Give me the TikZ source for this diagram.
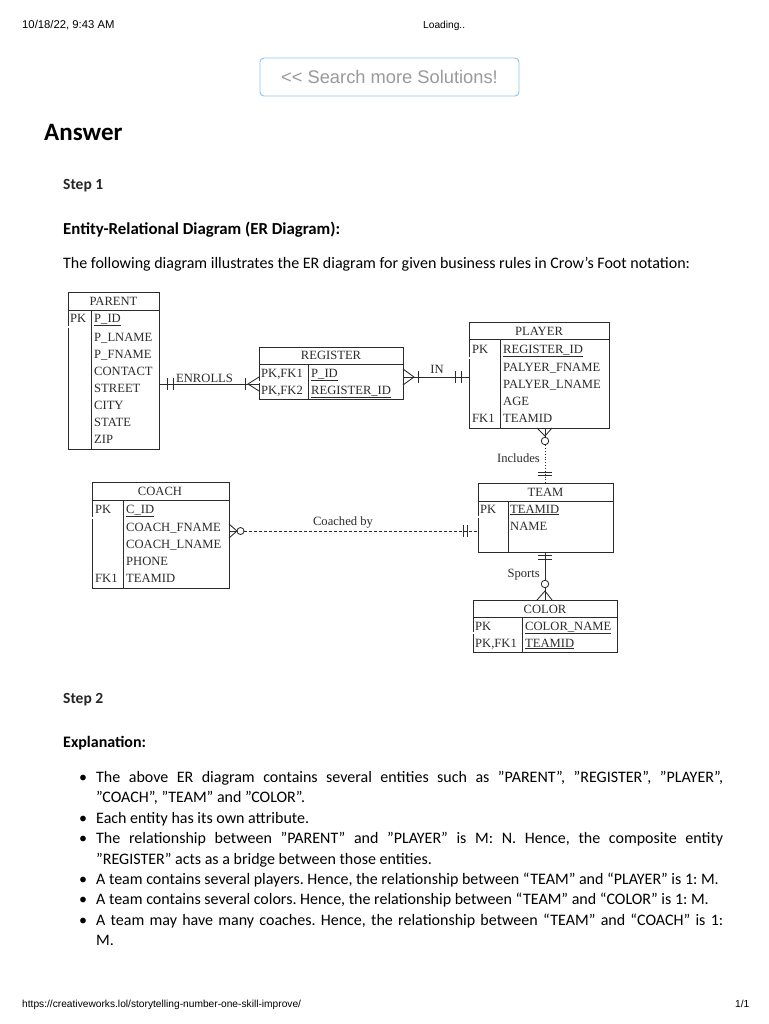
\documentclass[tikz,border=0pt]{standalone}
\usepackage{fontspec}
\setmainfont{Carlito}
\newfontfamily\pagefont{Liberation Sans}
\newfontfamily\erfont{Liberation Serif}
\usepackage{xcolor}
\usetikzlibrary{calc}
\frenchspacing

\definecolor{ink}{HTML}{2B2B2B}
\definecolor{btnblue}{HTML}{8CC4EC}
\definecolor{btngray}{HTML}{9A9A9A}

\begin{document}
\begin{tikzpicture}[
    x = 1pt, y = -1pt,
    % Named styles
    pagetxt/.style   = {font=\pagefont\fontsize{10.2}{12}\selectfont, inner sep=0pt, anchor=base west},
    headtxt/.style   = {font=\bfseries\fontsize{16}{19}\selectfont, inner sep=0pt, anchor=base west},
    steptxt/.style   = {headtxt, font=\bfseries\fontsize{15.5}{18}\selectfont, text=black!85},
    bodytxt/.style   = {font=\fontsize{16}{20.4}\selectfont, inner sep=0pt, anchor=base west},
    bullettxt/.style = {bodytxt, text width=627pt, align=justify},
    btn/.style       = {draw=btnblue, line width=0.9pt, rounded corners=4pt, text=btngray,
                        font=\pagefont\fontsize{18.3}{20}\selectfont,
                        minimum width=259pt, minimum height=38pt},
    entity/.style    = {draw=ink, line width=1pt, inner sep=0pt, anchor=north west},
    ertxt/.style     = {font=\erfont\fontsize{12.6}{14}\selectfont, text=ink, inner sep=0pt, anchor=base west},
    erhead/.style    = {ertxt, anchor=base},
    grid/.style      = {draw=ink, line width=0.9pt},
    keysep/.style    = {draw=ink, line width=0.55pt, double, double distance=1.1pt},
    rel/.style       = {draw=ink, line width=0.85pt},
    ring/.style      = {circle, draw=ink, line width=0.85pt, fill=white, inner sep=0pt, minimum size=7.5pt},
]

% ── Page ──────────────────────────────────────────────────────────────────────
\useasboundingbox (0,0) rectangle (768,1024);
\fill[white] (0,0) rectangle (768,1024);

% browser print header / footer
\node[pagetxt, font=\pagefont\fontsize{11.3}{13}\selectfont] (date) at (22,28.5) {10/18/22, 9:43 AM};
\node[pagetxt] (loading) at (423,28.5)   {Loading..};
\node[pagetxt] (url)     at (22,1007.5)  {https://creativeworks.lol/storytelling-number-one-skill-improve/};
\node[pagetxt] (pagenum) at (735,1007.5) {1/1};

% search button
\node[btn] (search) at (389.5,77) {\textless\textless{} Search more Solutions!};

% ── Headings ──────────────────────────────────────────────────────────────────
\node[headtxt, font=\bfseries\fontsize{25}{30}\selectfont] (answer) at (44,141) {Answer};
\node[steptxt] (step1) at (63,190) {Step 1};
\node[headtxt, font=\bfseries\fontsize{16.8}{19}\selectfont] (erhdg) at (63,234)
    {Entity-Relational Diagram (ER Diagram):};
\node[bodytxt] (intro) at (63,268)
    {The following diagram illustrates the ER diagram for given business rules in Crow’s Foot notation:};

% ── Entities ──────────────────────────────────────────────────────────────────
% PARENT
\node[entity, minimum width=91pt, minimum height=157pt] (parent) at (68,292) {};
\draw[grid]   (68,310) -- (159,310);
\draw[keysep] (68,327) -- (159,327);
\draw[grid]   (91,310) -- (91,449);
\node[erhead] (parentname) at (113.5,305) {PARENT};
\node[ertxt]  (parentpk)   at (70,322.5)  {PK};
\node[ertxt]  (parentid)   at (94,322.5)  {\underline{P\_ID}};
\foreach \a [count=\i] in {P\_LNAME,P\_FNAME,CONTACT,STREET,CITY,STATE,ZIP}
    \node[ertxt] (parenta\i) at (94,{324+17*\i}) {\a};

% REGISTER (composite)
\node[entity, minimum width=144pt, minimum height=52pt] (register) at (259,347) {};
\draw[grid]   (259,364) -- (403,364);
\draw[keysep] (259,382) -- (403,382);
\draw[grid]   (308,364) -- (308,399);
\node[erhead] (registername) at (331,359) {REGISTER};
\node[ertxt]  (registerk1)   at (261,377) {PK,FK1};
\node[ertxt]  (registerid1)  at (311,377) {\underline{P\_ID}};
\node[ertxt]  (registerk2)   at (261,394) {PK,FK2};
\node[ertxt]  (registerid2)  at (311,394) {\underline{REGISTER\_ID}};

% PLAYER
\node[entity, minimum width=140pt, minimum height=106pt] (player) at (469,322) {};
\draw[grid]   (469,339) -- (609,339);
\draw[keysep] (469,358) -- (609,358);
\draw[grid]   (500,339) -- (500,428);
\node[erhead] (playername) at (539,335) {PLAYER};
\node[ertxt]  (playerpk)   at (472,353) {PK};
\node[ertxt]  (playerid)   at (503,353) {\underline{REGISTER\_ID}};
\foreach \a [count=\i] in {PALYER\_FNAME,PALYER\_LNAME,AGE,TEAMID}
    \node[ertxt] (playera\i) at (503,{354+17*\i}) {\a};
\node[ertxt]  (playerfk)   at (472,422) {FK1};

% COACH
\node[entity, minimum width=137pt, minimum height=106pt] (coach) at (92,482) {};
\draw[grid]   (92,500) -- (229,500);
\draw[keysep] (92,518) -- (229,518);
\draw[grid]   (123,500) -- (123,588);
\node[erhead] (coachname) at (160,495) {COACH};
\node[ertxt]  (coachpk)   at (95,513)  {PK};
\node[ertxt]  (coachid)   at (126,513) {\underline{C\_ID}};
\foreach \a [count=\i] in {COACH\_FNAME,COACH\_LNAME,PHONE,TEAMID}
    \node[ertxt] (coacha\i) at (126,{514+17*\i}) {\a};
\node[ertxt]  (coachfk)   at (95,582)  {FK1};

% TEAM
\node[entity, minimum width=135pt, minimum height=69pt] (team) at (478,483) {};
\draw[grid]   (478,501) -- (613,501);
\draw[keysep] (478,517) -- (613,517);
\draw[grid]   (508,501) -- (508,552);
\node[erhead] (teamname) at (545.5,496) {TEAM};
\node[ertxt]  (teampk)   at (480,513) {PK};
\node[ertxt]  (teamid)   at (510,513) {\underline{TEAMID}};
\node[ertxt]  (teama1)   at (510,530) {NAME};

% COLOR
\node[entity, minimum width=144pt, minimum height=52pt] (color) at (473,600) {};
\draw[grid]   (473,617) -- (617,617);
\draw[keysep] (473,633) -- (617,633);
\draw[grid]   (522,617) -- (522,652);
\node[erhead] (colorname) at (545,613) {COLOR};
\node[ertxt]  (colork1)   at (475,630) {PK};
\node[ertxt]  (colorid1)  at (525,630) {\underline{COLOR\_NAME}};
\node[ertxt]  (colork2)   at (475,647) {PK,FK1};
\node[ertxt]  (colorid2)  at (525,647) {\underline{TEAMID}};

% ── Relationships ─────────────────────────────────────────────────────────────
% ENROLLS : PARENT ||----<| REGISTER
\coordinate (enr) at (0,384);
\draw[rel] (parent.east |- enr) -- (register.west |- enr);
\foreach \bx in {167,173} \draw[rel] (\bx,378) -- (\bx,390);
\draw[rel] (245,378) -- (245,390);
\draw[rel] (259,377) -- (248,384) -- (259,391);
\node[ertxt, anchor=base west] (enrolls) at (176,382) {ENROLLS};

% IN : REGISTER |>----|| PLAYER
\coordinate (inl) at (0,377);
\draw[rel] (register.east |- inl) -- (player.west |- inl);
\draw[rel] (403,369) -- (414,377) -- (403,385);
\draw[rel] (418,371) -- (418,383);
\foreach \bx in {455,461} \draw[rel] (\bx,371) -- (\bx,383);
\node[ertxt, anchor=base] (inlbl) at (437,373) {IN};

% Includes : PLAYER >o....|| TEAM
\coordinate (incx) at (545,0);
\draw[rel] (537,428) -- (545,436) -- (552,428);
\draw[rel] (player.south -| incx) -- (545,437);
\node[ring] (incring) at (545,441) {};
\draw[rel, dotted] (incring.south) -- (team.north -| incx);
\foreach \by in {472,475.5} \draw[rel] (538,\by) -- (552,\by);
\node[ertxt, anchor=base east] (includes) at (540,462) {Includes};

% Coached by : COACH >o- - - -|| TEAM
\coordinate (cby) at (0,531);
\draw[rel] (229,524) -- (237,531) -- (229,538);
\draw[rel] (coach.east |- cby) -- (237,531);
\node[ring, minimum size=7pt] (cbyring) at (240.5,531) {};
\draw[rel, dash pattern=on 3pt off 2pt] (cbyring.east) -- (team.west |- cby);
\foreach \bx in {463,467} \draw[rel] (\bx,525) -- (\bx,537);
\node[ertxt, anchor=base] (coachedby) at (343,525) {Coached by};

% Sports : TEAM ||----o< COLOR
\draw[rel] (team.south -| incx) -- (545,580);
\foreach \by in {555.5,559} \draw[rel] (538,\by) -- (552,\by);
\node[ring] (sportsring) at (545,584) {};
\draw[rel] (sportsring.south) -- (color.north -| incx);
\draw[rel] (537,600) -- (545,591) -- (552,600);
\node[ertxt, anchor=base east] (sports) at (540,577) {Sports};

% ── Explanation ───────────────────────────────────────────────────────────────
\node[steptxt] (step2)   at (63,703) {Step 2};
\node[headtxt] (explhdg) at (63,747) {Explanation:};

\foreach \y [count=\i] in {782.5,823.3,843.7,884.5,904.9,925.3}
    \node[bodytxt] (dot\i) at (79,\y) {•};

\node[bullettxt] (b1) at (96,782.5)
    {The above ER diagram contains several entities such as ”PARENT”, ”REGISTER”, ”PLAYER”,\linebreak
     ”COACH”, ”TEAM” and ”COLOR”.};
\node[bullettxt] (b2) at (96,823.3) {Each entity has its own attribute.};
\node[bullettxt] (b3) at (96,843.7)
    {The relationship between ”PARENT” and ”PLAYER” is M: N. Hence, the composite entity\linebreak
     ”REGISTER” acts as a bridge between those entities.};
\node[bodytxt] (b4) at (96,884.5)
    {A team contains several players. Hence, the relationship between “TEAM” and “PLAYER” is 1: M.};
\node[bodytxt] (b5) at (96,904.9)
    {A team contains several colors. Hence, the relationship between “TEAM” and “COLOR” is 1: M.};
\node[bullettxt] (b6) at (96,925.3)
    {A team may have many coaches. Hence, the relationship between “TEAM” and “COACH” is 1:\linebreak M.};

\end{tikzpicture}
\end{document}
